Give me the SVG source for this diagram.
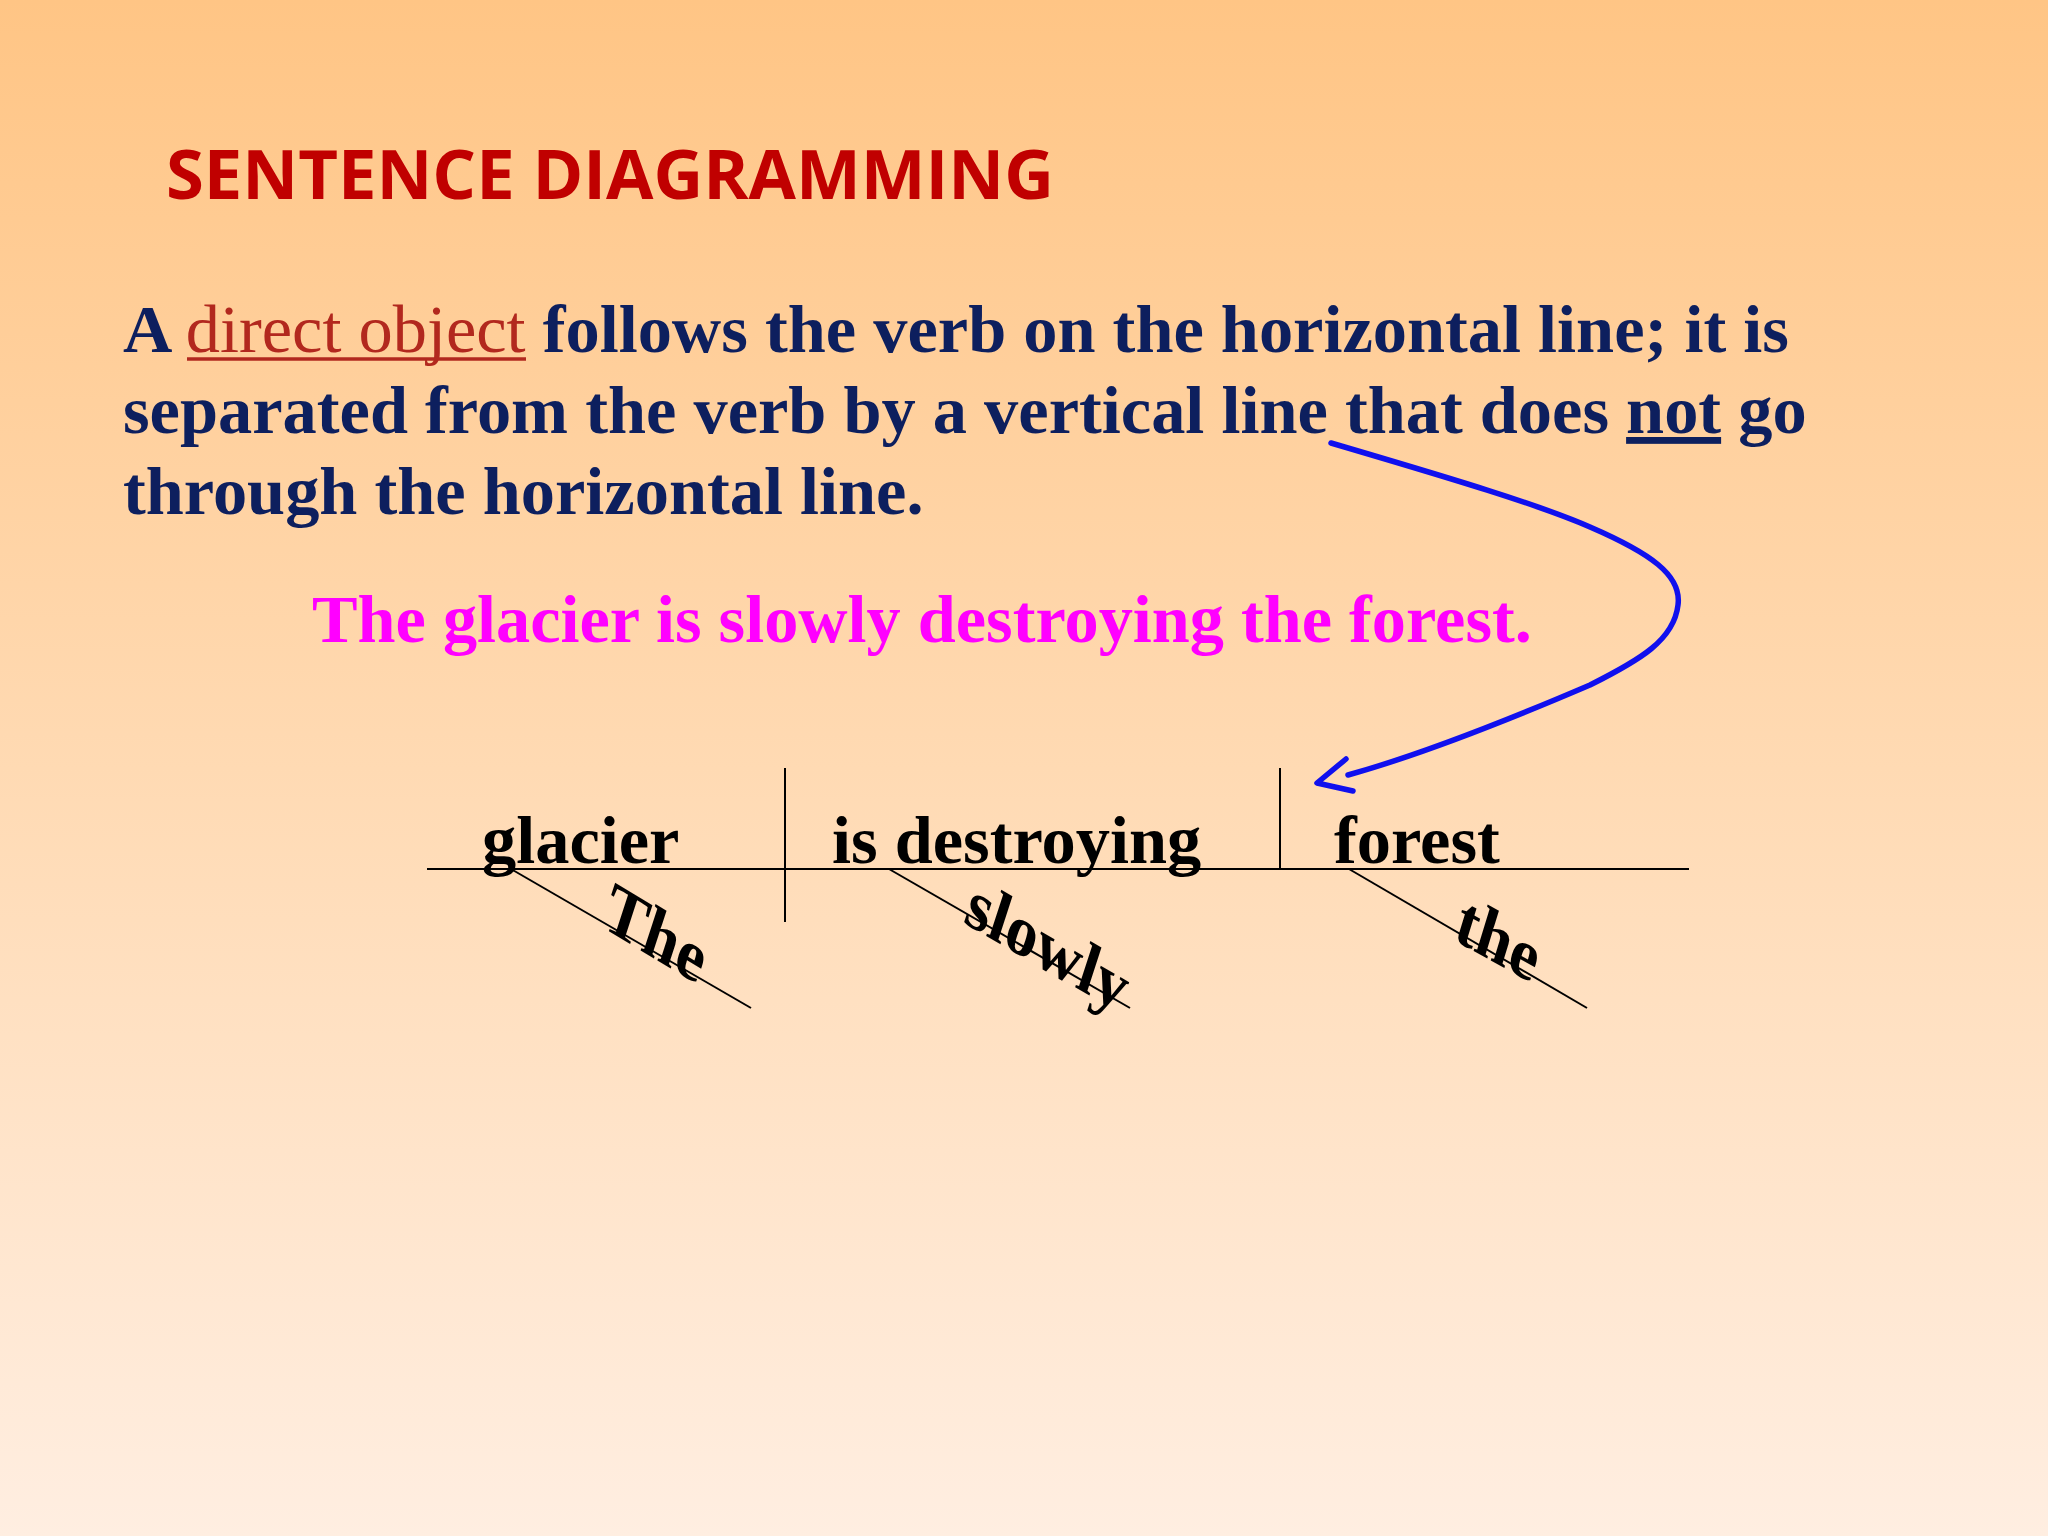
<svg xmlns="http://www.w3.org/2000/svg" width="2048" height="1536" viewBox="0 0 2048 1536">
  <defs>
    <linearGradient id="bg" x1="0" y1="0" x2="0" y2="1">
      <stop offset="0" stop-color="#FFC585"/>
      <stop offset="0.5" stop-color="#FFDAB3"/>
      <stop offset="1" stop-color="#FFEEE1"/>
    </linearGradient>
    <style>
      .title { font-family: "Open Sans", "Noto Sans", sans-serif; font-weight: 700; font-size: 68px; fill: #C00000; }
      .body { font-family: "Liberation Serif", "Times New Roman", serif; font-weight: 700; font-size: 68.4px; fill: #0D1F5E; }
      .term { font-weight: 400; fill: #B2281E; }
      .term-ul { stroke: #B2281E; stroke-width: 3.5; }
      .ul { text-decoration: underline; }
      .example { font-family: "Liberation Serif", "Times New Roman", serif; font-weight: 700; font-size: 68.3px; fill: #FF00FF; }
      .word { font-family: "Liberation Serif", "Times New Roman", serif; font-weight: 700; font-size: 68.4px; fill: #000000; }
      .dline { stroke: #000000; stroke-width: 2; fill: none; }
      .arrow { stroke: #1010EE; stroke-width: 5.5; fill: none; stroke-linecap: round; stroke-linejoin: round; }
    </style>
  </defs>
  <rect x="0" y="0" width="2048" height="1536" fill="url(#bg)"/>

  <g id="title">
    <text class="title" x="166" y="199" textLength="888" lengthAdjust="spacingAndGlyphs">SENTENCE DIAGRAMMING</text>
  </g>

  <g id="explanation">
    <text class="body" x="123" y="352">A <tspan class="term">direct object</tspan> follows the verb on the horizontal line; it is</text>
    <line class="term-ul" x1="187" y1="359" x2="526" y2="359"/>
    <text class="body" x="123" y="433">separated from the verb by a vertical line that does <tspan class="ul">not</tspan> go</text>
    <text class="body" x="123" y="514">through the horizontal line.</text>
  </g>

  <g id="example">
    <text class="example" x="312" y="642">The glacier is slowly destroying the forest.</text>
  </g>

  <g id="diagram-lines">
    <line class="dline" x1="427" y1="869" x2="1689" y2="869"/>
    <line class="dline" x1="785" y1="768" x2="785" y2="922"/>
    <line class="dline" x1="1280" y1="768" x2="1280" y2="869"/>
    <line class="dline" x1="511" y1="869" x2="751" y2="1008"/>
    <line class="dline" x1="889" y1="869" x2="1130" y2="1008"/>
    <line class="dline" x1="1349" y1="869" x2="1587" y2="1008"/>
  </g>

  <g id="subject">
    <text class="word" x="482" y="863">glacier</text>
  </g>
  <g id="verb">
    <text class="word" x="832" y="863">is destroying</text>
  </g>
  <g id="direct-object">
    <text class="word" x="1334" y="863">forest</text>
  </g>
  <g id="modifier-the-1">
    <text class="word" transform="translate(600,926) rotate(31) skewX(13)">The</text>
  </g>
  <g id="modifier-slowly">
    <text class="word" transform="translate(962,922) rotate(30) skewX(12)">slowly</text>
  </g>
  <g id="modifier-the-2">
    <text class="word" transform="translate(1452,939) rotate(29) skewX(12)">the</text>
  </g>

  <g id="connectors">
    <path class="arrow" d="M1331,443 C1450,478 1540,505 1590,527 C1650,553 1682,575 1678,605 C1674,640 1640,660 1590,685 C1520,715 1420,755 1348,775"/>
    <polyline class="arrow" points="1346,759 1317,783 1353,791"/>
  </g>
</svg>
